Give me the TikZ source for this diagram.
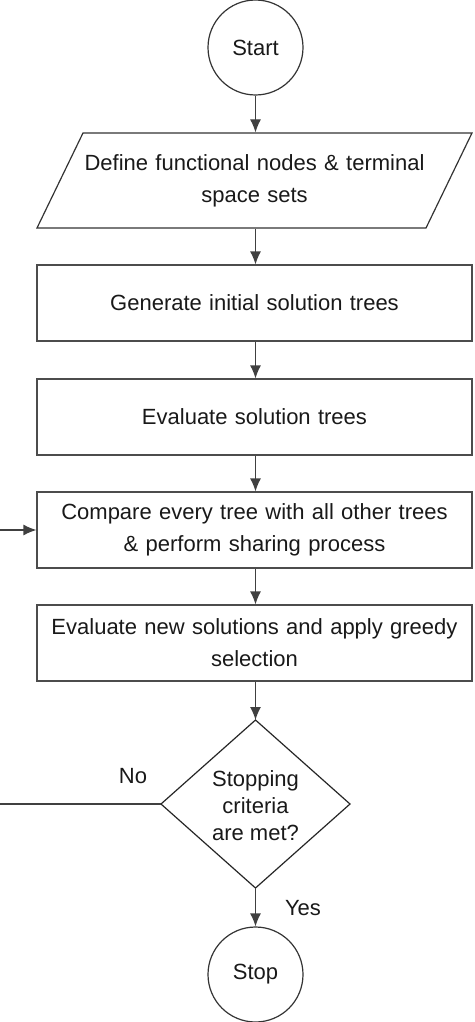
\documentclass[tikz,border=0pt]{standalone}
\usepackage{fontspec}
\setmainfont{Liberation Sans}
\usetikzlibrary{arrows.meta}
\begin{document}
\begin{tikzpicture}[x=1pt,y=-1pt,
  line width=1.2pt,
  lbl/.style={font=\fontsize{22}{32}\selectfont, text=black!90},
  term/.style={circle, draw=black!80, lbl, minimum size=95pt, inner sep=0pt},
  proc/.style={rectangle, draw=black!70, lbl, minimum width=435pt, minimum height=76pt, align=center, text width=425pt},
  io/.style={lbl, minimum width=380pt, minimum height=95pt, align=center, text width=370pt, inner sep=0pt},
  dec/.style={lbl, font=\fontsize{22}{27}\selectfont, align=center, inner sep=0pt, minimum width=10pt},
  flow/.style={draw=black!75, line width=1.2pt, -{Latex[length=13pt,width=11pt]}},
  plain/.style={draw=black!75, line width=1.2pt}
]
\useasboundingbox (0,0) rectangle (474,1022);
% start
\node[term] (start) at (255.5,47.5) {Start};
% parallelogram
\node[io] (define) at (254.5,180.5) {Define functional nodes \& terminal\\space sets};
\draw[draw=black!80] (83,133) -- (472,133) -- (426,228) -- (37,228) -- cycle;
% processes
\node[proc] (gen) at (254.5,303) {Generate initial solution trees};
\node[proc] (eval) at (254.5,417) {Evaluate solution trees};
\node[proc] (comp) at (254.5,530) {Compare every tree with all other trees\\\& perform sharing process};
\node[proc] (evnew) at (254.5,643) {Evaluate new solutions and apply greedy\\selection};
% decision
\coordinate (dtop) at (255.5,720);
\coordinate (dleft) at (161,804);
\coordinate (dright) at (350,804);
\coordinate (dbot) at (255.5,888);
\draw[draw=black!85] (dtop) -- (dright) -- (dbot) -- (dleft) -- cycle;
\node[dec] (stopq) at (255.5,806) {Stopping\\criteria\\are met?};
% stop
\node[term] (stop) at (255.5,974.5) {Stop};
% connectors
\draw[flow] (start.south) -- (start.south |- define.north);
\draw[flow] (start.south |- define.south) -- (start.south |- gen.north);
\draw[flow] (start.south |- gen.south) -- (start.south |- eval.north);
\draw[flow] (start.south |- eval.south) -- (start.south |- comp.north);
\draw[flow] (start.south |- comp.south) -- (start.south |- evnew.north);
\draw[flow] (start.south |- evnew.south) -- (dtop);
\draw[flow] (dbot) -- (stop.north);
% No branch
\coordinate (noend) at (0,804);
\coordinate (backin) at (0,530);
\draw[plain] (dleft) -- (noend);
\draw[flow] (backin) -- (comp.west);
\node[lbl] (nolbl) at (133,776) {No};
\node[lbl] (yeslbl) at (303,908) {Yes};
\end{tikzpicture}
\end{document}
